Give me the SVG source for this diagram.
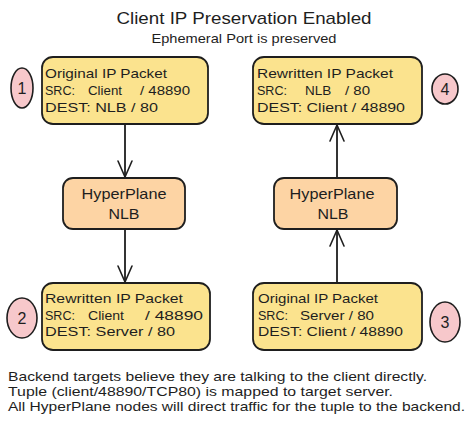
<svg xmlns="http://www.w3.org/2000/svg" width="474" height="426" viewBox="0 0 474 426">
<defs>
<marker id="arr" viewBox="0 0 20 20" refX="18" refY="10" markerWidth="20" markerHeight="20" markerUnits="userSpaceOnUse" orient="auto">
<path d="M2,3 L18,10 L2,17" fill="none" stroke="#1e1e1e" stroke-width="1.6" stroke-linecap="round" stroke-linejoin="round"/>
</marker>
<style>
text{font-family:"Liberation Sans",Arial,sans-serif;fill:#1e1e1e}
.t{font-size:13.5px}
.pkt{fill:#fbe38e;stroke:#1e1e1e;stroke-width:1.8}
.nlb{fill:#fdd4a4;stroke:#1e1e1e;stroke-width:1.8}
.num{fill:#f7c8cb;stroke:#1e1e1e;stroke-width:1.6}
.c{text-anchor:middle}
.conn{fill:none;stroke:#1e1e1e;stroke-width:1.8;marker-end:url(#arr)}
</style>
</defs>
<rect width="474" height="426" fill="#ffffff"/>
<g id="title">
<text x="244" y="24" class="c" font-size="17" textLength="255" lengthAdjust="spacingAndGlyphs">Client IP Preservation Enabled</text>
<text x="244" y="43" class="c" font-size="13" textLength="185" lengthAdjust="spacingAndGlyphs">Ephemeral Port is preserved</text>
</g>
<g id="connectors">
<path class="conn" d="M125,124 L125,177"/>
<path class="conn" d="M125,229 L125,282"/>
<path class="conn" d="M337,283 L337,230"/>
<path class="conn" d="M337,178 L337,125"/>
</g>
<g id="packet1">
<rect class="pkt" x="42" y="57" width="166" height="67" rx="11"/>
<text class="t" x="45" y="78" textLength="122" lengthAdjust="spacingAndGlyphs">Original IP Packet</text>
<text class="t" x="45" y="95" textLength="30" lengthAdjust="spacingAndGlyphs">SRC:</text><text class="t" x="88" y="95" textLength="34" lengthAdjust="spacingAndGlyphs">Client</text><text class="t" x="140" y="95" textLength="50" lengthAdjust="spacingAndGlyphs">/ 48890</text>
<text class="t" x="45" y="112" textLength="113" lengthAdjust="spacingAndGlyphs">DEST: NLB / 80</text>
</g>
<g id="badge1"><ellipse class="num" cx="22" cy="88" rx="11" ry="20"/><text class="c" x="22" y="94" font-size="16">1</text></g>
<g id="packet4">
<rect class="pkt" x="253" y="57" width="169" height="67" rx="11"/>
<text class="t" x="257" y="78" textLength="136" lengthAdjust="spacingAndGlyphs">Rewritten IP Packet</text>
<text class="t" x="257" y="95" textLength="30" lengthAdjust="spacingAndGlyphs">SRC:</text><text class="t" x="305" y="95">NLB</text><text class="t" x="345" y="95" textLength="25" lengthAdjust="spacingAndGlyphs">/ 80</text>
<text class="t" x="257" y="112" textLength="148" lengthAdjust="spacingAndGlyphs">DEST: Client / 48890</text>
</g>
<g id="badge4"><ellipse class="num" cx="445" cy="89" rx="13" ry="15"/><text class="c" x="445" y="95" font-size="16">4</text></g>
<g id="nlb1">
<rect class="nlb" x="63" y="178" width="122" height="51" rx="10"/>
<text class="c" x="124" y="199" font-size="14.5" textLength="85" lengthAdjust="spacingAndGlyphs">HyperPlane</text>
<text class="c" x="124" y="219" font-size="14.5" textLength="31" lengthAdjust="spacingAndGlyphs">NLB</text>
</g>
<g id="nlb2">
<rect class="nlb" x="274" y="178" width="123" height="51" rx="10"/>
<text class="c" x="332" y="199" font-size="14.5" textLength="85" lengthAdjust="spacingAndGlyphs">HyperPlane</text>
<text class="c" x="333" y="219" font-size="14.5" textLength="31" lengthAdjust="spacingAndGlyphs">NLB</text>
</g>
<g id="packet2">
<rect class="pkt" x="42" y="283" width="168" height="67" rx="11"/>
<text class="t" x="45" y="303" textLength="138" lengthAdjust="spacingAndGlyphs">Rewritten IP Packet</text>
<text class="t" x="45" y="320" textLength="30" lengthAdjust="spacingAndGlyphs">SRC:</text><text class="t" x="88" y="320" textLength="36" lengthAdjust="spacingAndGlyphs">Client</text><text class="t" x="145" y="320" textLength="58" lengthAdjust="spacingAndGlyphs">/ 48890</text>
<text class="t" x="45" y="336" textLength="130" lengthAdjust="spacingAndGlyphs">DEST: Server / 80</text>
</g>
<g id="badge2"><ellipse class="num" cx="22" cy="318" rx="15" ry="20"/><text class="c" x="22" y="324" font-size="16">2</text></g>
<g id="packet3">
<rect class="pkt" x="253" y="283" width="169" height="67" rx="11"/>
<text class="t" x="258" y="303" textLength="120" lengthAdjust="spacingAndGlyphs">Original IP Packet</text>
<text class="t" x="258" y="320" textLength="30" lengthAdjust="spacingAndGlyphs">SRC:</text><text class="t" x="300" y="320" textLength="74" lengthAdjust="spacingAndGlyphs">Server / 80</text>
<text class="t" x="258" y="336" textLength="145" lengthAdjust="spacingAndGlyphs">DEST: Client / 48890</text>
</g>
<g id="badge3"><ellipse class="num" cx="445" cy="322" rx="15" ry="20"/><text class="c" x="445" y="328" font-size="16">3</text></g>
<g id="notes">
<text class="t" x="8" y="381" textLength="419" lengthAdjust="spacingAndGlyphs">Backend targets believe they are talking to the client directly.</text>
<text class="t" x="8" y="396" textLength="385" lengthAdjust="spacingAndGlyphs">Tuple (client/48890/TCP80) is mapped to target server.</text>
<text class="t" x="8" y="411" textLength="457" lengthAdjust="spacingAndGlyphs">All HyperPlane nodes will direct traffic for the tuple to the backend.</text>
</g>
</svg>
